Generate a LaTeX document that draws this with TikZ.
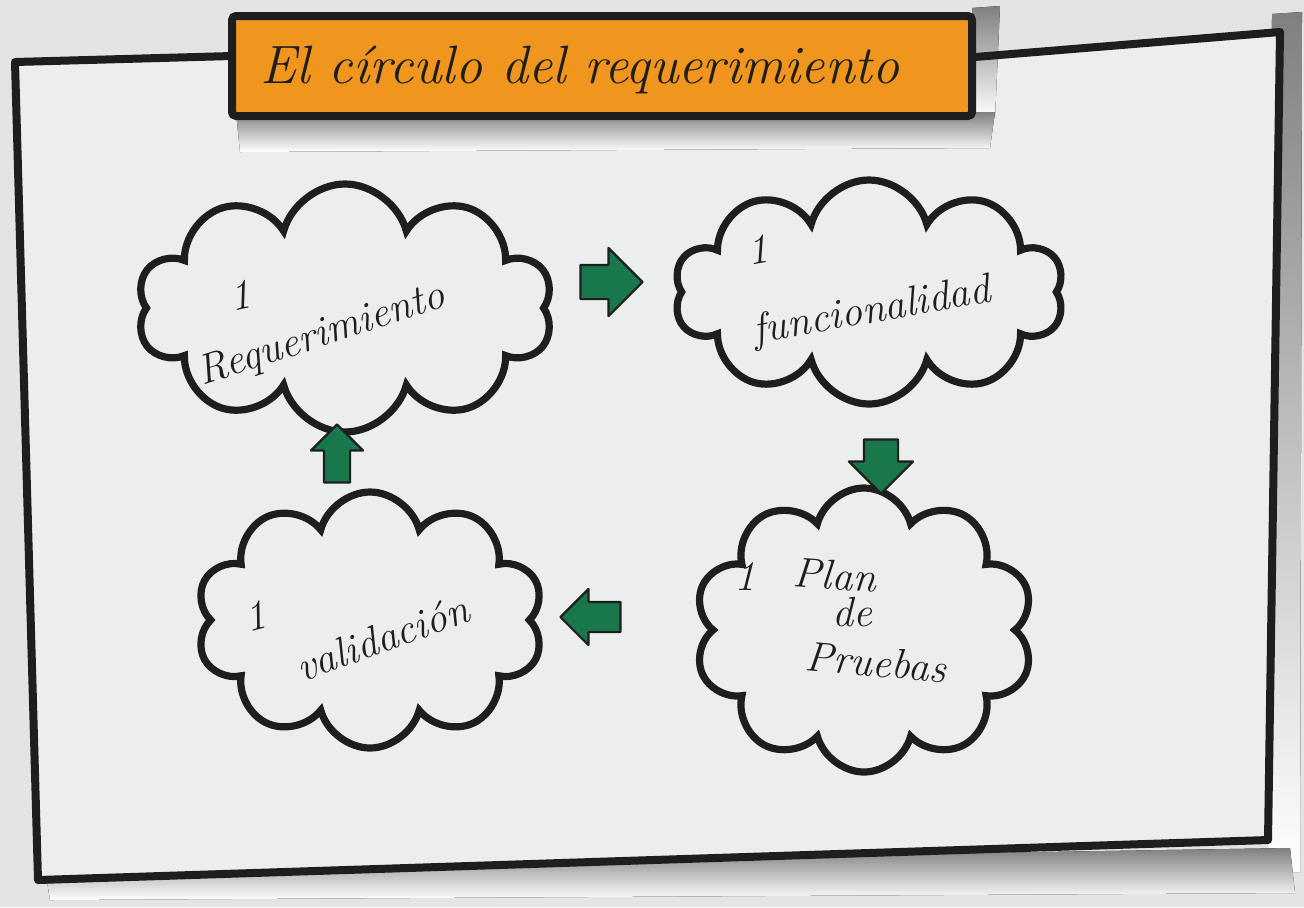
\documentclass[tikz,border=0pt]{standalone}
\usetikzlibrary{shapes.symbols,shapes.arrows}
\definecolor{paper}{HTML}{E3E5E4}
\definecolor{inner}{HTML}{ECEEED}
\definecolor{shade}{HTML}{9EA1A4}
\definecolor{marker}{HTML}{F0961E}
\definecolor{greenmk}{HTML}{19784B}
\definecolor{ink}{HTML}{1E1E1E}
\tikzset{
  framestyle/.style={draw=ink, line width=4pt, line join=round, line cap=round},
  cloudbox/.style={cloud, cloud puffs=10, cloud ignores aspect, draw=ink, line width=3.6pt, fill=inner, inner sep=0pt},
  hand/.style={font=\fontsize{21}{25}\selectfont\itshape, text=ink, inner sep=0pt},
  blockarrow/.style={single arrow, fill=greenmk, draw=ink, line width=1.1pt, inner xsep=0pt, inner ysep=8pt, single arrow head extend=8.5pt, single arrow tip angle=90, line join=round}
}
\begin{document}
\begin{tikzpicture}[x=0.5pt,y=-0.5pt]
\useasboundingbox (0,0) rectangle (1304,907);
\fill[paper] (0,0) rectangle (1304,907);
% shadows
\fill[shade] (1272,14) -- (1302,12) -- (1300,872) -- (1268,872) -- cycle;
\fill[shade] (45,868) -- (1290,848) -- (1295,893) -- (50,900) -- cycle;
% interior
\fill[inner] (232,56) -- (15,62) -- (38,880) -- (1268,840) -- (1280,32) -- (975,57) -- cycle;
% title shadow
\fill[shade] (972,8) -- (1000,6) -- (995,118) -- (972,118) -- cycle;
\fill[shade] (236,112) -- (995,112) -- (990,148) -- (240,152) -- cycle;
% frame
\draw[framestyle] (232,56) -- (15,62) -- (38,880) -- (1268,840) -- (1280,32) -- (975,57);
% title
\node[draw=ink, line width=4pt, fill=marker, minimum width=370pt, minimum height=50pt, inner sep=0pt, rounded corners=2pt] (title) at (602,66) {};
\node[font=\fontsize{27}{32}\selectfont\itshape, text=ink] (titletxt) at (580,70) {El círculo del requerimiento};
% clouds
\node[cloudbox, minimum width=208pt, minimum height=124pt] (req) at (345,308) {};
\node[cloudbox, minimum width=195pt, minimum height=112pt] (fun) at (869,292) {};
\node[cloudbox, minimum width=170pt, minimum height=142pt] (plan) at (864,630) {};
\node[cloudbox, minimum width=174pt, minimum height=128pt] (val) at (370,620) {};
% texts
\node[hand, rotate=18] (reqtxt) at (322,336) {Requerimiento};
\node[hand, rotate=12] (req1) at (240,296) {1};
\node[hand, rotate=10] (funtxt) at (872,312) {funcionalidad};
\node[hand, rotate=10] (fun1) at (757,250) {1};
\node[hand] (plan1) at (745,577) {1};
\node[hand, rotate=-4] (plantxt) at (835,575) {Plan};
\node[hand] (plande) at (852,612) {de};
\node[hand, rotate=-5] (planpr) at (876,662) {Pruebas};
\node[hand, rotate=20] (valtxt) at (382,638) {validación};
\node[hand, rotate=15] (val1) at (255,616) {1};
% block arrows
\node[blockarrow, minimum height=31pt] (rarr) at (603,282) {};
\node[blockarrow, rotate=-90, minimum height=27pt, single arrow head extend=7.5pt] (darr) at (881,458) {};
\node[blockarrow, rotate=180, minimum height=30pt, inner ysep=7pt, single arrow head extend=6.5pt] (larr) at (598,617) {};
\node[blockarrow, rotate=90, minimum height=29pt, inner ysep=6pt, single arrow head extend=6.5pt] (uarr) at (337,460) {};
\end{tikzpicture}
\end{document}
